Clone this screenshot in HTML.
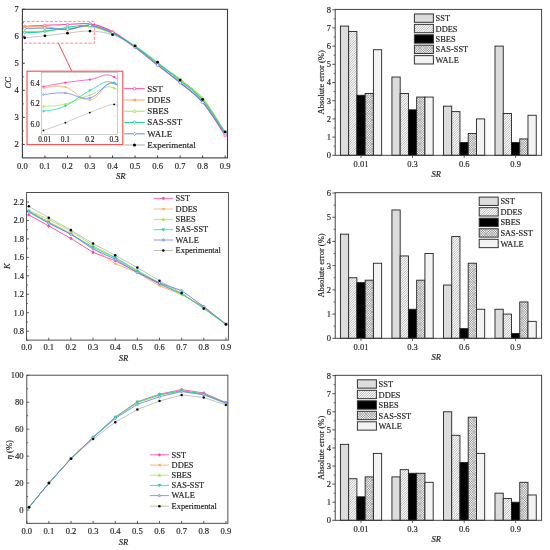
<!DOCTYPE html>
<html lang="en"><head><meta charset="utf-8"><title>Figure</title>
<style>
html,body{margin:0;padding:0;background:#fff}
body{width:550px;height:550px;overflow:hidden}
svg{display:block}
svg text{font-family:"Liberation Serif","DejaVu Serif",serif;stroke:#222;stroke-width:0.16px}
</style></head><body>
<svg width="550" height="550" viewBox="0 0 550 550">
<defs>
<pattern id="h1" width="12" height="12" patternUnits="userSpaceOnUse"><rect width="12" height="12" fill="#fff"/><path d="M-14.4 12L-2.4 0M-12 12L0 0M-9.6 12L2.4 0M-7.2 12L4.8 0M-4.8 12L7.2 0M-2.4 12L9.6 0M0 12L12 0M2.4 12L14.4 0M4.8 12L16.8 0M7.2 12L19.2 0M9.6 12L21.6 0M12 12L24 0" stroke="#747474" stroke-width="0.52" fill="none"/></pattern>
<pattern id="h2" width="12" height="12" patternUnits="userSpaceOnUse"><rect width="12" height="12" fill="#fff"/><path d="M-14.4 12L-2.4 0M-12 12L0 0M-9.6 12L2.4 0M-7.2 12L4.8 0M-4.8 12L7.2 0M-2.4 12L9.6 0M0 12L12 0M2.4 12L14.4 0M4.8 12L16.8 0M7.2 12L19.2 0M9.6 12L21.6 0M12 12L24 0M-14.4 0L-2.4 12M-12 0L0 12M-9.6 0L2.4 12M-7.2 0L4.8 12M-4.8 0L7.2 12M-2.4 0L9.6 12M0 0L12 12M2.4 0L14.4 12M4.8 0L16.8 12M7.2 0L19.2 12M9.6 0L21.6 12M12 0L24 12" stroke="#6e6e6e" stroke-width="0.55" fill="none"/></pattern>
</defs>
<rect width="550" height="550" fill="#fff"/>
<rect x="22.4" y="21.4" width="72" height="21.8" fill="none" stroke="#ff6262" stroke-width="0.75" stroke-dasharray="3 1.6"/>
<path d="M24.65 37.81 C28.03 37.47 37.8 36.56 44.93 35.78 C52.06 35.01 59.95 33.95 67.46 33.16 C74.97 32.36 82.48 30.76 89.99 31.02 C97.5 31.28 105.01 32.21 112.52 34.7 C120.03 37.19 127.54 41.39 135.05 45.97 C142.56 50.56 150.07 56.52 157.58 62.2 C165.09 67.88 172.6 73.85 180.11 80.04 C187.62 86.24 195.13 90.73 202.64 99.38 C210.15 108.03 221.42 126.53 225.17 131.96" fill="none" stroke="#9a9a9a" stroke-width="0.6"/>
<path d="M24.65 26.37 C28.03 26.19 37.8 25.62 44.93 25.32 C52.06 25.01 59.95 24.78 67.46 24.53 C74.97 24.29 82.48 22.69 89.99 23.86 C97.5 25.02 105.01 27.64 112.52 31.51 C120.03 35.37 127.54 41.49 135.05 47.06 C142.56 52.62 150.07 59 157.58 64.9 C165.09 70.81 172.6 76.26 180.11 82.48 C187.62 88.7 195.13 93.34 202.64 102.22 C210.15 111.1 221.42 130.16 225.17 135.75" fill="none" stroke="#ff45a2" stroke-width="1.05"/>
<circle cx="24.65" cy="26.37" r="1.25" fill="#fff" stroke="#ff45a2" stroke-width="0.7"/>
<circle cx="44.93" cy="25.32" r="1.25" fill="#fff" stroke="#ff45a2" stroke-width="0.7"/>
<circle cx="67.46" cy="24.53" r="1.25" fill="#fff" stroke="#ff45a2" stroke-width="0.7"/>
<circle cx="89.99" cy="23.86" r="1.25" fill="#fff" stroke="#ff45a2" stroke-width="0.7"/>
<circle cx="112.52" cy="31.51" r="1.25" fill="#fff" stroke="#ff45a2" stroke-width="0.7"/>
<circle cx="135.05" cy="47.06" r="1.25" fill="#fff" stroke="#ff45a2" stroke-width="0.7"/>
<circle cx="157.58" cy="64.9" r="1.25" fill="#fff" stroke="#ff45a2" stroke-width="0.7"/>
<circle cx="180.11" cy="82.48" r="1.25" fill="#fff" stroke="#ff45a2" stroke-width="0.7"/>
<circle cx="202.64" cy="102.22" r="1.25" fill="#fff" stroke="#ff45a2" stroke-width="0.7"/>
<circle cx="225.17" cy="135.75" r="1.25" fill="#fff" stroke="#ff45a2" stroke-width="0.7"/>
<path d="M24.65 26.72 C28.03 26.68 37.8 25.96 44.93 26.48 C52.06 27 59.95 30.05 67.46 29.86 C74.97 29.66 82.48 24.84 89.99 25.32 C97.5 25.79 105.01 29.01 112.52 32.72 C120.03 36.44 127.54 42.32 135.05 47.6 C142.56 52.87 150.07 59.09 157.58 64.36 C165.09 69.63 172.6 73.24 180.11 79.23 C187.62 85.23 195.13 91.27 202.64 100.32 C210.15 109.38 221.42 128.04 225.17 133.58" fill="none" stroke="#ffa766" stroke-width="1.05"/>
<path d="M23.15 26.72 L25.78 25.35 L25.78 28.1 Z" fill="#ffa766" stroke="#ffa766" stroke-width="0.42"/>
<path d="M43.43 26.48 L46.05 25.1 L46.05 27.85 Z" fill="#ffa766" stroke="#ffa766" stroke-width="0.42"/>
<path d="M65.96 29.86 L68.59 28.48 L68.59 31.23 Z" fill="#ffa766" stroke="#ffa766" stroke-width="0.42"/>
<path d="M88.49 25.32 L91.12 23.94 L91.12 26.69 Z" fill="#ffa766" stroke="#ffa766" stroke-width="0.42"/>
<path d="M111.02 32.72 L113.65 31.35 L113.65 34.1 Z" fill="#ffa766" stroke="#ffa766" stroke-width="0.42"/>
<path d="M133.55 47.6 L136.18 46.22 L136.18 48.97 Z" fill="#ffa766" stroke="#ffa766" stroke-width="0.42"/>
<path d="M156.08 64.36 L158.71 62.99 L158.71 65.74 Z" fill="#ffa766" stroke="#ffa766" stroke-width="0.42"/>
<path d="M178.61 79.23 L181.24 77.86 L181.24 80.61 Z" fill="#ffa766" stroke="#ffa766" stroke-width="0.42"/>
<path d="M201.14 100.32 L203.77 98.95 L203.77 101.7 Z" fill="#ffa766" stroke="#ffa766" stroke-width="0.42"/>
<path d="M223.67 133.58 L226.3 132.21 L226.3 134.96 Z" fill="#ffa766" stroke="#ffa766" stroke-width="0.42"/>
<path d="M24.65 31.54 C28.03 31.43 37.8 31.41 44.93 30.91 C52.06 30.42 59.95 29.26 67.46 28.56 C74.97 27.86 82.48 25.89 89.99 26.72 C97.5 27.55 105.01 30.28 112.52 33.54 C120.03 36.79 127.54 41.33 135.05 46.24 C142.56 51.16 150.07 57.42 157.58 63.01 C165.09 68.6 172.6 73.92 180.11 79.77 C187.62 85.63 195.13 89.37 202.64 98.16 C210.15 106.95 221.42 126.78 225.17 132.5" fill="none" stroke="#a2e64e" stroke-width="1.05"/>
<path d="M24.65 30.04 L26.03 32.66 L23.28 32.66 Z" fill="#fff" stroke="#a2e64e" stroke-width="0.7"/>
<path d="M44.93 29.41 L46.3 32.04 L43.55 32.04 Z" fill="#fff" stroke="#a2e64e" stroke-width="0.7"/>
<path d="M67.46 27.06 L68.84 29.69 L66.09 29.69 Z" fill="#fff" stroke="#a2e64e" stroke-width="0.7"/>
<path d="M89.99 25.22 L91.37 27.85 L88.62 27.85 Z" fill="#fff" stroke="#a2e64e" stroke-width="0.7"/>
<path d="M112.52 32.04 L113.9 34.66 L111.15 34.66 Z" fill="#fff" stroke="#a2e64e" stroke-width="0.7"/>
<path d="M135.05 44.74 L136.43 47.37 L133.68 47.37 Z" fill="#fff" stroke="#a2e64e" stroke-width="0.7"/>
<path d="M157.58 61.51 L158.96 64.13 L156.21 64.13 Z" fill="#fff" stroke="#a2e64e" stroke-width="0.7"/>
<path d="M180.11 78.27 L181.49 80.9 L178.74 80.9 Z" fill="#fff" stroke="#a2e64e" stroke-width="0.7"/>
<path d="M202.64 96.66 L204.02 99.29 L201.27 99.29 Z" fill="#fff" stroke="#a2e64e" stroke-width="0.7"/>
<path d="M225.17 131 L226.55 133.63 L223.8 133.63 Z" fill="#fff" stroke="#a2e64e" stroke-width="0.7"/>
<path d="M24.65 32.83 C28.03 32.6 37.8 32.33 44.93 31.43 C52.06 30.52 59.95 28.4 67.46 27.4 C74.97 26.4 82.48 24.49 89.99 25.42 C97.5 26.36 105.01 29.53 112.52 33 C120.03 36.47 127.54 41.2 135.05 46.24 C142.56 51.29 150.07 57.56 157.58 63.28 C165.09 69 172.6 74.46 180.11 80.59 C187.62 86.71 195.13 91.36 202.64 100.05 C210.15 108.75 221.42 127.32 225.17 132.77" fill="none" stroke="#1fd7a2" stroke-width="1.05"/>
<path d="M24.65 34.33 L26.03 31.71 L23.28 31.71 Z" fill="#fff" stroke="#1fd7a2" stroke-width="0.7"/>
<path d="M44.93 32.93 L46.3 30.3 L43.55 30.3 Z" fill="#fff" stroke="#1fd7a2" stroke-width="0.7"/>
<path d="M67.46 28.9 L68.84 26.27 L66.09 26.27 Z" fill="#fff" stroke="#1fd7a2" stroke-width="0.7"/>
<path d="M89.99 26.92 L91.37 24.3 L88.62 24.3 Z" fill="#fff" stroke="#1fd7a2" stroke-width="0.7"/>
<path d="M112.52 34.5 L113.9 31.87 L111.15 31.87 Z" fill="#fff" stroke="#1fd7a2" stroke-width="0.7"/>
<path d="M135.05 47.74 L136.43 45.12 L133.68 45.12 Z" fill="#fff" stroke="#1fd7a2" stroke-width="0.7"/>
<path d="M157.58 64.78 L158.96 62.16 L156.21 62.16 Z" fill="#fff" stroke="#1fd7a2" stroke-width="0.7"/>
<path d="M180.11 82.09 L181.49 79.46 L178.74 79.46 Z" fill="#fff" stroke="#1fd7a2" stroke-width="0.7"/>
<path d="M202.64 101.55 L204.02 98.93 L201.27 98.93 Z" fill="#fff" stroke="#1fd7a2" stroke-width="0.7"/>
<path d="M225.17 134.27 L226.55 131.65 L223.8 131.65 Z" fill="#fff" stroke="#1fd7a2" stroke-width="0.7"/>
<path d="M24.65 28.45 C28.03 28.38 37.8 27.9 44.93 28.05 C52.06 28.2 59.95 29.76 67.46 29.34 C74.97 28.93 82.48 24.97 89.99 25.53 C97.5 26.1 105.01 29.14 112.52 32.72 C120.03 36.31 127.54 41.65 135.05 47.06 C142.56 52.46 150.07 59.22 157.58 65.17 C165.09 71.12 172.6 76.53 180.11 82.75 C187.62 88.97 195.13 93.97 202.64 102.49 C210.15 111.01 221.42 128.63 225.17 133.85" fill="none" stroke="#6682f2" stroke-width="1.05"/>
<path d="M24.65 26.89 L26.22 28.45 L24.65 30.01 L23.09 28.45 Z" fill="#fff" stroke="#6682f2" stroke-width="0.7"/>
<path d="M44.93 26.48 L46.49 28.05 L44.93 29.61 L43.37 28.05 Z" fill="#fff" stroke="#6682f2" stroke-width="0.7"/>
<path d="M67.46 27.78 L69.02 29.34 L67.46 30.91 L65.9 29.34 Z" fill="#fff" stroke="#6682f2" stroke-width="0.7"/>
<path d="M89.99 23.97 L91.55 25.53 L89.99 27.09 L88.43 25.53 Z" fill="#fff" stroke="#6682f2" stroke-width="0.7"/>
<path d="M112.52 31.16 L114.08 32.72 L112.52 34.29 L110.96 32.72 Z" fill="#fff" stroke="#6682f2" stroke-width="0.7"/>
<path d="M135.05 45.49 L136.61 47.06 L135.05 48.62 L133.49 47.06 Z" fill="#fff" stroke="#6682f2" stroke-width="0.7"/>
<path d="M157.58 63.61 L159.14 65.17 L157.58 66.74 L156.02 65.17 Z" fill="#fff" stroke="#6682f2" stroke-width="0.7"/>
<path d="M180.11 81.19 L181.67 82.75 L180.11 84.31 L178.55 82.75 Z" fill="#fff" stroke="#6682f2" stroke-width="0.7"/>
<path d="M202.64 100.93 L204.2 102.49 L202.64 104.05 L201.08 102.49 Z" fill="#fff" stroke="#6682f2" stroke-width="0.7"/>
<path d="M225.17 132.29 L226.73 133.85 L225.17 135.42 L223.61 133.85 Z" fill="#fff" stroke="#6682f2" stroke-width="0.7"/>
<circle cx="24.65" cy="37.81" r="1.38" fill="#000"/>
<circle cx="44.93" cy="35.78" r="1.38" fill="#000"/>
<circle cx="67.46" cy="33.16" r="1.38" fill="#000"/>
<circle cx="89.99" cy="31.02" r="1.38" fill="#000"/>
<circle cx="112.52" cy="34.7" r="1.38" fill="#000"/>
<circle cx="135.05" cy="45.97" r="1.38" fill="#000"/>
<circle cx="157.58" cy="62.2" r="1.38" fill="#000"/>
<circle cx="180.11" cy="80.04" r="1.38" fill="#000"/>
<circle cx="202.64" cy="99.38" r="1.38" fill="#000"/>
<circle cx="225.17" cy="131.96" r="1.38" fill="#000"/>
<rect x="22.4" y="9.3" width="205.1" height="148.6" fill="none" stroke="#3c3c3c" stroke-width="1.1"/>
<line x1="22.4" y1="157.9" x2="22.4" y2="155.5" stroke="#3c3c3c" stroke-width="0.9900000000000001"/>
<line x1="44.93" y1="157.9" x2="44.93" y2="155.5" stroke="#3c3c3c" stroke-width="0.9900000000000001"/>
<line x1="67.46" y1="157.9" x2="67.46" y2="155.5" stroke="#3c3c3c" stroke-width="0.9900000000000001"/>
<line x1="89.99" y1="157.9" x2="89.99" y2="155.5" stroke="#3c3c3c" stroke-width="0.9900000000000001"/>
<line x1="112.52" y1="157.9" x2="112.52" y2="155.5" stroke="#3c3c3c" stroke-width="0.9900000000000001"/>
<line x1="135.05" y1="157.9" x2="135.05" y2="155.5" stroke="#3c3c3c" stroke-width="0.9900000000000001"/>
<line x1="157.58" y1="157.9" x2="157.58" y2="155.5" stroke="#3c3c3c" stroke-width="0.9900000000000001"/>
<line x1="180.11" y1="157.9" x2="180.11" y2="155.5" stroke="#3c3c3c" stroke-width="0.9900000000000001"/>
<line x1="202.64" y1="157.9" x2="202.64" y2="155.5" stroke="#3c3c3c" stroke-width="0.9900000000000001"/>
<line x1="225.17" y1="157.9" x2="225.17" y2="155.5" stroke="#3c3c3c" stroke-width="0.9900000000000001"/>
<line x1="22.4" y1="144.4" x2="24.8" y2="144.4" stroke="#3c3c3c" stroke-width="0.9900000000000001"/>
<line x1="22.4" y1="117.36" x2="24.8" y2="117.36" stroke="#3c3c3c" stroke-width="0.9900000000000001"/>
<line x1="22.4" y1="90.32" x2="24.8" y2="90.32" stroke="#3c3c3c" stroke-width="0.9900000000000001"/>
<line x1="22.4" y1="63.28" x2="24.8" y2="63.28" stroke="#3c3c3c" stroke-width="0.9900000000000001"/>
<line x1="22.4" y1="36.24" x2="24.8" y2="36.24" stroke="#3c3c3c" stroke-width="0.9900000000000001"/>
<line x1="22.4" y1="9.2" x2="24.8" y2="9.2" stroke="#3c3c3c" stroke-width="0.9900000000000001"/>
<line x1="22.4" y1="130.88" x2="23.7" y2="130.88" stroke="#3c3c3c" stroke-width="0.8800000000000001"/>
<line x1="22.4" y1="103.84" x2="23.7" y2="103.84" stroke="#3c3c3c" stroke-width="0.8800000000000001"/>
<line x1="22.4" y1="76.8" x2="23.7" y2="76.8" stroke="#3c3c3c" stroke-width="0.8800000000000001"/>
<line x1="22.4" y1="49.76" x2="23.7" y2="49.76" stroke="#3c3c3c" stroke-width="0.8800000000000001"/>
<line x1="22.4" y1="22.72" x2="23.7" y2="22.72" stroke="#3c3c3c" stroke-width="0.8800000000000001"/>
<text x="22.4" y="168.7" font-size="8.6" text-anchor="middle" fill="#222">0.0</text>
<text x="44.93" y="168.7" font-size="8.6" text-anchor="middle" fill="#222">0.1</text>
<text x="67.46" y="168.7" font-size="8.6" text-anchor="middle" fill="#222">0.2</text>
<text x="89.99" y="168.7" font-size="8.6" text-anchor="middle" fill="#222">0.3</text>
<text x="112.52" y="168.7" font-size="8.6" text-anchor="middle" fill="#222">0.4</text>
<text x="135.05" y="168.7" font-size="8.6" text-anchor="middle" fill="#222">0.5</text>
<text x="157.58" y="168.7" font-size="8.6" text-anchor="middle" fill="#222">0.6</text>
<text x="180.11" y="168.7" font-size="8.6" text-anchor="middle" fill="#222">0.7</text>
<text x="202.64" y="168.7" font-size="8.6" text-anchor="middle" fill="#222">0.8</text>
<text x="225.17" y="168.7" font-size="8.6" text-anchor="middle" fill="#222">0.9</text>
<text x="18.8" y="147.24" font-size="8.6" text-anchor="end" fill="#222">2</text>
<text x="18.8" y="120.2" font-size="8.6" text-anchor="end" fill="#222">3</text>
<text x="18.8" y="93.16" font-size="8.6" text-anchor="end" fill="#222">4</text>
<text x="18.8" y="66.12" font-size="8.6" text-anchor="end" fill="#222">5</text>
<text x="18.8" y="39.08" font-size="8.6" text-anchor="end" fill="#222">6</text>
<text x="18.8" y="12.04" font-size="8.6" text-anchor="end" fill="#222">7</text>
<text x="120.8" y="178.6" font-size="8.7" text-anchor="middle" font-style="italic" fill="#222">SR</text>
<text x="11.4" y="82.7" font-size="8.7" text-anchor="middle" font-style="italic" transform="rotate(-90 11.4 82.7)" fill="#222">CC</text>
<line x1="58.4" y1="43.2" x2="71.7" y2="71" stroke="#ff4a4a" stroke-width="1.0"/>
<rect x="27" y="71.2" width="95.8" height="73.4" fill="#fff" stroke="#ff4a4a" stroke-width="1.1"/>
<clipPath id="ic"><rect x="41.5" y="72.6" width="76" height="61.8"/></clipPath>
<g clip-path="url(#ic)">
<path d="M43.44 130.4 C45.64 129.63 60.76 124.42 65.4 122.64 C70.04 120.86 84.92 114.42 89.8 112.6 C94.68 110.78 109.32 103.83 114.2 104.42 C119.08 105.01 136.16 117.09 138.6 118.5" fill="none" stroke="#9a9a9a" stroke-width="0.5"/>
<path d="M43.44 86.62 C47.98 85.79 55.82 84.04 65.4 82.59 C74.98 81.13 79.71 80.74 89.8 79.58 C99.89 78.43 104.11 71.48 114.2 77 C124.29 82.52 133.56 100.23 138.6 106.29" fill="none" stroke="#ff45a2" stroke-width="0.78"/>
<circle cx="43.44" cy="86.62" r="0.9" fill="#ff45a2" stroke="#ff45a2" stroke-width="0.5"/>
<circle cx="65.4" cy="82.59" r="0.9" fill="#ff45a2" stroke="#ff45a2" stroke-width="0.5"/>
<circle cx="89.8" cy="79.58" r="0.9" fill="#ff45a2" stroke="#ff45a2" stroke-width="0.5"/>
<circle cx="114.2" cy="77" r="0.9" fill="#ff45a2" stroke="#ff45a2" stroke-width="0.5"/>
<path d="M43.44 87.97 C47.98 87.78 55.82 84.56 65.4 87.04 C74.98 89.52 79.71 100.89 89.8 99.97 C99.89 99.05 104.11 80.32 114.2 82.59 C124.29 84.85 133.56 105.08 138.6 110.95" fill="none" stroke="#ffa766" stroke-width="0.78"/>
<path d="M42.36 87.97 L44.25 86.98 L44.25 88.96 Z" fill="#ffa766" stroke="#ffa766" stroke-width="0.3"/>
<path d="M64.32 87.04 L66.21 86.05 L66.21 88.03 Z" fill="#ffa766" stroke="#ffa766" stroke-width="0.3"/>
<path d="M88.72 99.97 L90.61 98.98 L90.61 100.96 Z" fill="#ffa766" stroke="#ffa766" stroke-width="0.3"/>
<path d="M113.12 82.59 L115.01 81.6 L115.01 83.58 Z" fill="#ffa766" stroke="#ffa766" stroke-width="0.3"/>
<path d="M43.44 106.39 C47.98 105.9 55.82 106.36 65.4 104.01 C74.98 101.66 79.71 98.32 89.8 95.01 C99.89 91.69 104.11 84.03 114.2 87.97 C124.29 91.9 133.56 108.66 138.6 114.05" fill="none" stroke="#a2e64e" stroke-width="0.78"/>
<path d="M43.44 105.31 L44.43 107.2 L42.45 107.2 Z" fill="#a2e64e" stroke="#a2e64e" stroke-width="0.5"/>
<path d="M65.4 102.93 L66.39 104.82 L64.41 104.82 Z" fill="#a2e64e" stroke="#a2e64e" stroke-width="0.5"/>
<path d="M89.8 93.93 L90.79 95.82 L88.81 95.82 Z" fill="#a2e64e" stroke="#a2e64e" stroke-width="0.5"/>
<path d="M114.2 86.89 L115.19 88.78 L113.21 88.78 Z" fill="#a2e64e" stroke="#a2e64e" stroke-width="0.5"/>
<path d="M43.44 111.36 C47.98 110.25 55.82 110.28 65.4 105.98 C74.98 101.68 79.71 95.3 89.8 90.56 C99.89 85.81 104.11 78.57 114.2 83 C124.29 87.43 133.56 105.99 138.6 111.98" fill="none" stroke="#1fd7a2" stroke-width="0.78"/>
<path d="M43.44 112.44 L44.43 110.55 L42.45 110.55 Z" fill="#1fd7a2" stroke="#1fd7a2" stroke-width="0.5"/>
<path d="M65.4 107.06 L66.39 105.17 L64.41 105.17 Z" fill="#1fd7a2" stroke="#1fd7a2" stroke-width="0.5"/>
<path d="M89.8 91.64 L90.79 89.75 L88.81 89.75 Z" fill="#1fd7a2" stroke="#1fd7a2" stroke-width="0.5"/>
<path d="M114.2 84.08 L115.19 82.19 L113.21 82.19 Z" fill="#1fd7a2" stroke="#1fd7a2" stroke-width="0.5"/>
<path d="M43.44 94.59 C47.98 94.27 55.82 92.33 65.4 93.04 C74.98 93.75 79.71 100 89.8 98.01 C99.89 96.02 104.11 80.74 114.2 83.41 C124.29 86.09 133.56 105.26 138.6 110.95" fill="none" stroke="#6682f2" stroke-width="0.78"/>
<path d="M43.44 93.47 L44.56 94.59 L43.44 95.72 L42.31 94.59 Z" fill="#b9c6ff" stroke="#6682f2" stroke-width="0.5"/>
<path d="M65.4 91.91 L66.53 93.04 L65.4 94.16 L64.28 93.04 Z" fill="#b9c6ff" stroke="#6682f2" stroke-width="0.5"/>
<path d="M89.8 96.88 L90.93 98.01 L89.8 99.13 L88.68 98.01 Z" fill="#b9c6ff" stroke="#6682f2" stroke-width="0.5"/>
<path d="M114.2 82.29 L115.33 83.41 L114.2 84.54 L113.08 83.41 Z" fill="#b9c6ff" stroke="#6682f2" stroke-width="0.5"/>
<circle cx="43.44" cy="130.4" r="0.95" fill="#000"/>
<circle cx="65.4" cy="122.64" r="0.95" fill="#000"/>
<circle cx="89.8" cy="112.6" r="0.95" fill="#000"/>
<circle cx="114.2" cy="104.42" r="0.95" fill="#000"/>
</g>
<rect x="41.5" y="72.6" width="76" height="61.8" fill="none" stroke="#aaa" stroke-width="0.6"/>
<text x="39.8" y="126.9" font-size="7.4" text-anchor="end" fill="#222" stroke-width="0.05">6.0</text>
<text x="39.8" y="106.2" font-size="7.4" text-anchor="end" fill="#222" stroke-width="0.05">6.2</text>
<text x="39.8" y="85.5" font-size="7.4" text-anchor="end" fill="#222" stroke-width="0.05">6.4</text>
<text x="44.64" y="142.4" font-size="7.4" text-anchor="middle" fill="#222" stroke-width="0.05">0.01</text>
<text x="65.4" y="142.4" font-size="7.4" text-anchor="middle" fill="#222" stroke-width="0.05">0.1</text>
<text x="89.8" y="142.4" font-size="7.4" text-anchor="middle" fill="#222" stroke-width="0.05">0.2</text>
<text x="114.2" y="142.4" font-size="7.4" text-anchor="middle" fill="#222" stroke-width="0.05">0.3</text>
<line x1="124.2" y1="88.7" x2="144.8" y2="88.7" stroke="#ff45a2" stroke-width="1.0"/>
<circle cx="134.5" cy="88.7" r="1.4" fill="#fff" stroke="#ff45a2" stroke-width="0.7"/>
<text x="147.3" y="91.67" font-size="9.0" text-anchor="start" fill="#222">SST</text>
<line x1="124.2" y1="100" x2="144.8" y2="100" stroke="#ffa766" stroke-width="1.0"/>
<path d="M132.82 100 L135.76 98.46 L135.76 101.54 Z" fill="#ffa766" stroke="#ffa766" stroke-width="0.42"/>
<text x="147.3" y="102.97" font-size="9.0" text-anchor="start" fill="#222">DDES</text>
<line x1="124.2" y1="111.2" x2="144.8" y2="111.2" stroke="#a2e64e" stroke-width="1.0"/>
<path d="M134.5 109.52 L136.04 112.46 L132.96 112.46 Z" fill="#fff" stroke="#a2e64e" stroke-width="0.7"/>
<text x="147.3" y="114.17" font-size="9.0" text-anchor="start" fill="#222">SBES</text>
<line x1="124.2" y1="122.5" x2="144.8" y2="122.5" stroke="#1fd7a2" stroke-width="1.0"/>
<path d="M134.5 124.18 L136.04 121.24 L132.96 121.24 Z" fill="#fff" stroke="#1fd7a2" stroke-width="0.7"/>
<text x="147.3" y="125.47" font-size="9.0" text-anchor="start" fill="#222">SAS-SST</text>
<line x1="124.2" y1="133.8" x2="144.8" y2="133.8" stroke="#6682f2" stroke-width="1.0"/>
<path d="M134.5 132.05 L136.25 133.8 L134.5 135.55 L132.75 133.8 Z" fill="#fff" stroke="#6682f2" stroke-width="0.7"/>
<text x="147.3" y="136.77" font-size="9.0" text-anchor="start" fill="#222">WALE</text>
<line x1="124.2" y1="145" x2="144.8" y2="145" stroke="#777" stroke-width="0.6"/>
<circle cx="134.5" cy="145" r="1.54" fill="#000"/>
<text x="147.3" y="147.97" font-size="9.0" text-anchor="start" fill="#222">Experimental</text>
<path d="M28.82 206.32 L48.75 217.67 L70.9 230.13 L93.05 243.61 L115.2 255.24 L137.35 267.61 L159.5 280.71 L181.65 293.08 L203.8 308.4 L225.95 324.37" fill="none" stroke="#9a9a9a" stroke-width="0.6"/>
<path d="M28.82 214.9 L48.75 225.98 L70.9 238.44 L93.05 252.38 L115.2 260.68 L137.35 272.13 L159.5 284.13 L181.65 293.82 L203.8 307.66 L225.95 324.37" fill="none" stroke="#ff45a2" stroke-width="0.9"/>
<circle cx="28.82" cy="214.9" r="1.15" fill="#ff45a2" stroke="#ff45a2" stroke-width="0.65"/>
<circle cx="48.75" cy="225.98" r="1.15" fill="#ff45a2" stroke="#ff45a2" stroke-width="0.65"/>
<circle cx="70.9" cy="238.44" r="1.15" fill="#ff45a2" stroke="#ff45a2" stroke-width="0.65"/>
<circle cx="93.05" cy="252.38" r="1.15" fill="#ff45a2" stroke="#ff45a2" stroke-width="0.65"/>
<circle cx="115.2" cy="260.68" r="1.15" fill="#ff45a2" stroke="#ff45a2" stroke-width="0.65"/>
<circle cx="137.35" cy="272.13" r="1.15" fill="#ff45a2" stroke="#ff45a2" stroke-width="0.65"/>
<circle cx="159.5" cy="284.13" r="1.15" fill="#ff45a2" stroke="#ff45a2" stroke-width="0.65"/>
<circle cx="181.65" cy="293.82" r="1.15" fill="#ff45a2" stroke="#ff45a2" stroke-width="0.65"/>
<circle cx="203.8" cy="307.66" r="1.15" fill="#ff45a2" stroke="#ff45a2" stroke-width="0.65"/>
<circle cx="225.95" cy="324.37" r="1.15" fill="#ff45a2" stroke="#ff45a2" stroke-width="0.65"/>
<path d="M28.82 211.21 L48.75 221.82 L70.9 233.36 L93.05 248.13 L115.2 263.73 L137.35 272.59 L159.5 285.79 L181.65 294.56 L203.8 306.46 L225.95 324.37" fill="none" stroke="#ffa766" stroke-width="0.9"/>
<path d="M27.44 211.21 L29.85 209.94 L29.85 212.47 Z" fill="#ffa766" stroke="#ffa766" stroke-width="0.39"/>
<path d="M47.37 221.82 L49.78 220.56 L49.78 223.09 Z" fill="#ffa766" stroke="#ffa766" stroke-width="0.39"/>
<path d="M69.52 233.36 L71.94 232.1 L71.94 234.63 Z" fill="#ffa766" stroke="#ffa766" stroke-width="0.39"/>
<path d="M91.67 248.13 L94.09 246.87 L94.09 249.39 Z" fill="#ffa766" stroke="#ffa766" stroke-width="0.39"/>
<path d="M113.82 263.73 L116.24 262.46 L116.24 264.99 Z" fill="#ffa766" stroke="#ffa766" stroke-width="0.39"/>
<path d="M135.97 272.59 L138.38 271.32 L138.38 273.85 Z" fill="#ffa766" stroke="#ffa766" stroke-width="0.39"/>
<path d="M158.12 285.79 L160.53 284.52 L160.53 287.05 Z" fill="#ffa766" stroke="#ffa766" stroke-width="0.39"/>
<path d="M180.27 294.56 L182.68 293.29 L182.68 295.82 Z" fill="#ffa766" stroke="#ffa766" stroke-width="0.39"/>
<path d="M202.42 306.46 L204.84 305.2 L204.84 307.73 Z" fill="#ffa766" stroke="#ffa766" stroke-width="0.39"/>
<path d="M224.57 324.37 L226.98 323.1 L226.98 325.63 Z" fill="#ffa766" stroke="#ffa766" stroke-width="0.39"/>
<path d="M28.82 210.47 L48.75 219.52 L70.9 231.05 L93.05 245.82 L115.2 257.36 L137.35 270.28 L159.5 282.74 L181.65 293.36 L203.8 308.59 L225.95 324.55" fill="none" stroke="#a2e64e" stroke-width="0.9"/>
<path d="M28.82 209.09 L30.08 211.51 L27.55 211.51 Z" fill="#a2e64e" stroke="#a2e64e" stroke-width="0.65"/>
<path d="M48.75 218.14 L50.02 220.55 L47.48 220.55 Z" fill="#a2e64e" stroke="#a2e64e" stroke-width="0.65"/>
<path d="M70.9 229.67 L72.17 232.09 L69.64 232.09 Z" fill="#a2e64e" stroke="#a2e64e" stroke-width="0.65"/>
<path d="M93.05 244.44 L94.32 246.86 L91.79 246.86 Z" fill="#a2e64e" stroke="#a2e64e" stroke-width="0.65"/>
<path d="M115.2 255.98 L116.47 258.4 L113.94 258.4 Z" fill="#a2e64e" stroke="#a2e64e" stroke-width="0.65"/>
<path d="M137.35 268.9 L138.61 271.32 L136.09 271.32 Z" fill="#a2e64e" stroke="#a2e64e" stroke-width="0.65"/>
<path d="M159.5 281.36 L160.76 283.78 L158.24 283.78 Z" fill="#a2e64e" stroke="#a2e64e" stroke-width="0.65"/>
<path d="M181.65 291.98 L182.91 294.39 L180.38 294.39 Z" fill="#a2e64e" stroke="#a2e64e" stroke-width="0.65"/>
<path d="M203.8 307.21 L205.06 309.62 L202.54 309.62 Z" fill="#a2e64e" stroke="#a2e64e" stroke-width="0.65"/>
<path d="M225.95 323.17 L227.21 325.59 L224.69 325.59 Z" fill="#a2e64e" stroke="#a2e64e" stroke-width="0.65"/>
<path d="M28.82 211.21 L48.75 222.75 L70.9 234.28 L93.05 247.21 L115.2 257.82 L137.35 271.2 L159.5 283.67 L181.65 293.82 L203.8 308.12 L225.95 324.37" fill="none" stroke="#1fd7a2" stroke-width="0.9"/>
<path d="M28.82 212.59 L30.08 210.17 L27.55 210.17 Z" fill="#1fd7a2" stroke="#1fd7a2" stroke-width="0.65"/>
<path d="M48.75 224.13 L50.02 221.71 L47.48 221.71 Z" fill="#1fd7a2" stroke="#1fd7a2" stroke-width="0.65"/>
<path d="M70.9 235.66 L72.17 233.25 L69.64 233.25 Z" fill="#1fd7a2" stroke="#1fd7a2" stroke-width="0.65"/>
<path d="M93.05 248.59 L94.32 246.17 L91.79 246.17 Z" fill="#1fd7a2" stroke="#1fd7a2" stroke-width="0.65"/>
<path d="M115.2 259.2 L116.47 256.79 L113.94 256.79 Z" fill="#1fd7a2" stroke="#1fd7a2" stroke-width="0.65"/>
<path d="M137.35 272.58 L138.61 270.17 L136.09 270.17 Z" fill="#1fd7a2" stroke="#1fd7a2" stroke-width="0.65"/>
<path d="M159.5 285.05 L160.76 282.63 L158.24 282.63 Z" fill="#1fd7a2" stroke="#1fd7a2" stroke-width="0.65"/>
<path d="M181.65 295.2 L182.91 292.78 L180.38 292.78 Z" fill="#1fd7a2" stroke="#1fd7a2" stroke-width="0.65"/>
<path d="M203.8 309.5 L205.06 307.09 L202.54 307.09 Z" fill="#1fd7a2" stroke="#1fd7a2" stroke-width="0.65"/>
<path d="M225.95 325.75 L227.21 323.33 L224.69 323.33 Z" fill="#1fd7a2" stroke="#1fd7a2" stroke-width="0.65"/>
<path d="M28.82 212.13 L48.75 223.21 L70.9 234.28 L93.05 249.05 L115.2 259.21 L137.35 272.68 L159.5 282.93 L181.65 290.59 L203.8 306.65 L225.95 324.19" fill="none" stroke="#6682f2" stroke-width="0.9"/>
<path d="M28.82 210.7 L30.25 212.13 L28.82 213.57 L27.38 212.13 Z" fill="#b9c6ff" stroke="#6682f2" stroke-width="0.65"/>
<path d="M48.75 221.77 L50.19 223.21 L48.75 224.65 L47.31 223.21 Z" fill="#b9c6ff" stroke="#6682f2" stroke-width="0.65"/>
<path d="M70.9 232.85 L72.34 234.28 L70.9 235.72 L69.46 234.28 Z" fill="#b9c6ff" stroke="#6682f2" stroke-width="0.65"/>
<path d="M93.05 247.62 L94.49 249.05 L93.05 250.49 L91.61 249.05 Z" fill="#b9c6ff" stroke="#6682f2" stroke-width="0.65"/>
<path d="M115.2 257.77 L116.64 259.21 L115.2 260.64 L113.76 259.21 Z" fill="#b9c6ff" stroke="#6682f2" stroke-width="0.65"/>
<path d="M137.35 271.24 L138.79 272.68 L137.35 274.12 L135.91 272.68 Z" fill="#b9c6ff" stroke="#6682f2" stroke-width="0.65"/>
<path d="M159.5 281.49 L160.94 282.93 L159.5 284.36 L158.06 282.93 Z" fill="#b9c6ff" stroke="#6682f2" stroke-width="0.65"/>
<path d="M181.65 289.15 L183.09 290.59 L181.65 292.03 L180.21 290.59 Z" fill="#b9c6ff" stroke="#6682f2" stroke-width="0.65"/>
<path d="M203.8 305.21 L205.24 306.65 L203.8 308.09 L202.36 306.65 Z" fill="#b9c6ff" stroke="#6682f2" stroke-width="0.65"/>
<path d="M225.95 322.75 L227.39 324.19 L225.95 325.62 L224.51 324.19 Z" fill="#b9c6ff" stroke="#6682f2" stroke-width="0.65"/>
<circle cx="28.82" cy="206.32" r="1.26" fill="#000"/>
<circle cx="48.75" cy="217.67" r="1.26" fill="#000"/>
<circle cx="70.9" cy="230.13" r="1.26" fill="#000"/>
<circle cx="93.05" cy="243.61" r="1.26" fill="#000"/>
<circle cx="115.2" cy="255.24" r="1.26" fill="#000"/>
<circle cx="137.35" cy="267.61" r="1.26" fill="#000"/>
<circle cx="159.5" cy="280.71" r="1.26" fill="#000"/>
<circle cx="181.65" cy="293.08" r="1.26" fill="#000"/>
<circle cx="203.8" cy="308.4" r="1.26" fill="#000"/>
<circle cx="225.95" cy="324.37" r="1.26" fill="#000"/>
<rect x="26.6" y="192.5" width="201.8" height="147.6" fill="none" stroke="#3c3c3c" stroke-width="0.9"/>
<line x1="26.6" y1="340.1" x2="26.6" y2="337.7" stroke="#3c3c3c" stroke-width="0.81"/>
<line x1="48.75" y1="340.1" x2="48.75" y2="337.7" stroke="#3c3c3c" stroke-width="0.81"/>
<line x1="70.9" y1="340.1" x2="70.9" y2="337.7" stroke="#3c3c3c" stroke-width="0.81"/>
<line x1="93.05" y1="340.1" x2="93.05" y2="337.7" stroke="#3c3c3c" stroke-width="0.81"/>
<line x1="115.2" y1="340.1" x2="115.2" y2="337.7" stroke="#3c3c3c" stroke-width="0.81"/>
<line x1="137.35" y1="340.1" x2="137.35" y2="337.7" stroke="#3c3c3c" stroke-width="0.81"/>
<line x1="159.5" y1="340.1" x2="159.5" y2="337.7" stroke="#3c3c3c" stroke-width="0.81"/>
<line x1="181.65" y1="340.1" x2="181.65" y2="337.7" stroke="#3c3c3c" stroke-width="0.81"/>
<line x1="203.8" y1="340.1" x2="203.8" y2="337.7" stroke="#3c3c3c" stroke-width="0.81"/>
<line x1="225.95" y1="340.1" x2="225.95" y2="337.7" stroke="#3c3c3c" stroke-width="0.81"/>
<line x1="26.6" y1="331.2" x2="29" y2="331.2" stroke="#3c3c3c" stroke-width="0.81"/>
<line x1="26.6" y1="312.74" x2="29" y2="312.74" stroke="#3c3c3c" stroke-width="0.81"/>
<line x1="26.6" y1="294.28" x2="29" y2="294.28" stroke="#3c3c3c" stroke-width="0.81"/>
<line x1="26.6" y1="275.82" x2="29" y2="275.82" stroke="#3c3c3c" stroke-width="0.81"/>
<line x1="26.6" y1="257.36" x2="29" y2="257.36" stroke="#3c3c3c" stroke-width="0.81"/>
<line x1="26.6" y1="238.9" x2="29" y2="238.9" stroke="#3c3c3c" stroke-width="0.81"/>
<line x1="26.6" y1="220.44" x2="29" y2="220.44" stroke="#3c3c3c" stroke-width="0.81"/>
<line x1="26.6" y1="201.98" x2="29" y2="201.98" stroke="#3c3c3c" stroke-width="0.81"/>
<line x1="26.6" y1="340.43" x2="27.9" y2="340.43" stroke="#3c3c3c" stroke-width="0.7200000000000001"/>
<line x1="26.6" y1="321.97" x2="27.9" y2="321.97" stroke="#3c3c3c" stroke-width="0.7200000000000001"/>
<line x1="26.6" y1="303.51" x2="27.9" y2="303.51" stroke="#3c3c3c" stroke-width="0.7200000000000001"/>
<line x1="26.6" y1="285.05" x2="27.9" y2="285.05" stroke="#3c3c3c" stroke-width="0.7200000000000001"/>
<line x1="26.6" y1="266.59" x2="27.9" y2="266.59" stroke="#3c3c3c" stroke-width="0.7200000000000001"/>
<line x1="26.6" y1="248.13" x2="27.9" y2="248.13" stroke="#3c3c3c" stroke-width="0.7200000000000001"/>
<line x1="26.6" y1="229.67" x2="27.9" y2="229.67" stroke="#3c3c3c" stroke-width="0.7200000000000001"/>
<line x1="26.6" y1="211.21" x2="27.9" y2="211.21" stroke="#3c3c3c" stroke-width="0.7200000000000001"/>
<text x="26.6" y="350.2" font-size="8.5" text-anchor="middle" fill="#222">0.0</text>
<text x="48.75" y="350.2" font-size="8.5" text-anchor="middle" fill="#222">0.1</text>
<text x="70.9" y="350.2" font-size="8.5" text-anchor="middle" fill="#222">0.2</text>
<text x="93.05" y="350.2" font-size="8.5" text-anchor="middle" fill="#222">0.3</text>
<text x="115.2" y="350.2" font-size="8.5" text-anchor="middle" fill="#222">0.4</text>
<text x="137.35" y="350.2" font-size="8.5" text-anchor="middle" fill="#222">0.5</text>
<text x="159.5" y="350.2" font-size="8.5" text-anchor="middle" fill="#222">0.6</text>
<text x="181.65" y="350.2" font-size="8.5" text-anchor="middle" fill="#222">0.7</text>
<text x="203.8" y="350.2" font-size="8.5" text-anchor="middle" fill="#222">0.8</text>
<text x="225.95" y="350.2" font-size="8.5" text-anchor="middle" fill="#222">0.9</text>
<text x="24" y="334" font-size="8.5" text-anchor="end" fill="#222">0.8</text>
<text x="24" y="315.55" font-size="8.5" text-anchor="end" fill="#222">1.0</text>
<text x="24" y="297.08" font-size="8.5" text-anchor="end" fill="#222">1.2</text>
<text x="24" y="278.62" font-size="8.5" text-anchor="end" fill="#222">1.4</text>
<text x="24" y="260.17" font-size="8.5" text-anchor="end" fill="#222">1.6</text>
<text x="24" y="241.7" font-size="8.5" text-anchor="end" fill="#222">1.8</text>
<text x="24" y="223.25" font-size="8.5" text-anchor="end" fill="#222">2.0</text>
<text x="24" y="204.78" font-size="8.5" text-anchor="end" fill="#222">2.2</text>
<text x="123.6" y="361" font-size="8.6" text-anchor="middle" font-style="italic" fill="#222">SR</text>
<text x="9.7" y="266.1" font-size="8.6" text-anchor="middle" font-style="italic" transform="rotate(-90 9.7 266.1)" fill="#222">K</text>
<line x1="153.6" y1="198.4" x2="173" y2="198.4" stroke="#ff45a2" stroke-width="0.8"/>
<circle cx="163.3" cy="198.4" r="1.15" fill="#ff45a2" stroke="#ff45a2" stroke-width="0.7"/>
<text x="175.6" y="201.17" font-size="8.4" text-anchor="start" fill="#222">SST</text>
<line x1="153.6" y1="209" x2="173" y2="209" stroke="#ffa766" stroke-width="0.8"/>
<path d="M161.92 209 L164.34 207.74 L164.34 210.26 Z" fill="#ffa766" stroke="#ffa766" stroke-width="0.42"/>
<text x="175.6" y="211.77" font-size="8.4" text-anchor="start" fill="#222">DDES</text>
<line x1="153.6" y1="219.4" x2="173" y2="219.4" stroke="#a2e64e" stroke-width="0.8"/>
<path d="M163.3 218.02 L164.56 220.44 L162.04 220.44 Z" fill="#a2e64e" stroke="#a2e64e" stroke-width="0.7"/>
<text x="175.6" y="222.17" font-size="8.4" text-anchor="start" fill="#222">SBES</text>
<line x1="153.6" y1="229.7" x2="173" y2="229.7" stroke="#1fd7a2" stroke-width="0.8"/>
<path d="M163.3 231.08 L164.56 228.66 L162.04 228.66 Z" fill="#1fd7a2" stroke="#1fd7a2" stroke-width="0.7"/>
<text x="175.6" y="232.47" font-size="8.4" text-anchor="start" fill="#222">SAS-SST</text>
<line x1="153.6" y1="240" x2="173" y2="240" stroke="#6682f2" stroke-width="0.8"/>
<path d="M163.3 238.56 L164.74 240 L163.3 241.44 L161.86 240 Z" fill="#b9c6ff" stroke="#6682f2" stroke-width="0.7"/>
<text x="175.6" y="242.77" font-size="8.4" text-anchor="start" fill="#222">WALE</text>
<line x1="153.6" y1="250.5" x2="173" y2="250.5" stroke="#777" stroke-width="0.48"/>
<circle cx="163.3" cy="250.5" r="1.26" fill="#000"/>
<text x="175.6" y="253.27" font-size="8.4" text-anchor="start" fill="#222">Experimental</text>
<path d="M29.01 507.31 L48.92 483.06 L71.04 458.81 L93.16 439.01 L115.28 422.18 L137.4 409.51 L159.52 401.03 L181.64 394.97 L203.76 397.53 L225.88 404.93" fill="none" stroke="#9a9a9a" stroke-width="0.6"/>
<path d="M29.01 507.31 L48.92 483.06 L71.04 458.41 L93.16 437.26 L115.28 417.19 L137.4 401.84 L159.52 394.16 L181.64 389.58 L203.76 392.95 L225.88 402.64" fill="none" stroke="#ff45a2" stroke-width="0.85"/>
<circle cx="29.01" cy="507.31" r="1.1" fill="#ff45a2" stroke="#ff45a2" stroke-width="0.6"/>
<circle cx="48.92" cy="483.06" r="1.1" fill="#ff45a2" stroke="#ff45a2" stroke-width="0.6"/>
<circle cx="71.04" cy="458.41" r="1.1" fill="#ff45a2" stroke="#ff45a2" stroke-width="0.6"/>
<circle cx="93.16" cy="437.26" r="1.1" fill="#ff45a2" stroke="#ff45a2" stroke-width="0.6"/>
<circle cx="115.28" cy="417.19" r="1.1" fill="#ff45a2" stroke="#ff45a2" stroke-width="0.6"/>
<circle cx="137.4" cy="401.84" r="1.1" fill="#ff45a2" stroke="#ff45a2" stroke-width="0.6"/>
<circle cx="159.52" cy="394.16" r="1.1" fill="#ff45a2" stroke="#ff45a2" stroke-width="0.6"/>
<circle cx="181.64" cy="389.58" r="1.1" fill="#ff45a2" stroke="#ff45a2" stroke-width="0.6"/>
<circle cx="203.76" cy="392.95" r="1.1" fill="#ff45a2" stroke="#ff45a2" stroke-width="0.6"/>
<circle cx="225.88" cy="402.64" r="1.1" fill="#ff45a2" stroke="#ff45a2" stroke-width="0.6"/>
<path d="M29.01 507.31 L48.92 483.06 L71.04 458.41 L93.16 437.26 L115.28 417.6 L137.4 402.78 L159.52 395.1 L181.64 390.52 L203.76 394.02 L225.88 403.05" fill="none" stroke="#ffa766" stroke-width="0.85"/>
<path d="M27.69 507.31 L30 506.1 L30 508.52 Z" fill="#ffa766" stroke="#ffa766" stroke-width="0.36"/>
<path d="M47.6 483.06 L49.91 481.85 L49.91 484.27 Z" fill="#ffa766" stroke="#ffa766" stroke-width="0.36"/>
<path d="M69.72 458.41 L72.03 457.2 L72.03 459.62 Z" fill="#ffa766" stroke="#ffa766" stroke-width="0.36"/>
<path d="M91.84 437.26 L94.15 436.05 L94.15 438.47 Z" fill="#ffa766" stroke="#ffa766" stroke-width="0.36"/>
<path d="M113.96 417.6 L116.27 416.39 L116.27 418.81 Z" fill="#ffa766" stroke="#ffa766" stroke-width="0.36"/>
<path d="M136.08 402.78 L138.39 401.57 L138.39 403.99 Z" fill="#ffa766" stroke="#ffa766" stroke-width="0.36"/>
<path d="M158.2 395.1 L160.51 393.89 L160.51 396.31 Z" fill="#ffa766" stroke="#ffa766" stroke-width="0.36"/>
<path d="M180.32 390.52 L182.63 389.31 L182.63 391.73 Z" fill="#ffa766" stroke="#ffa766" stroke-width="0.36"/>
<path d="M202.44 394.02 L204.75 392.81 L204.75 395.23 Z" fill="#ffa766" stroke="#ffa766" stroke-width="0.36"/>
<path d="M224.56 403.05 L226.87 401.84 L226.87 404.26 Z" fill="#ffa766" stroke="#ffa766" stroke-width="0.36"/>
<path d="M29.01 507.31 L48.92 483.06 L71.04 458.28 L93.16 437.26 L115.28 417.33 L137.4 402.24 L159.52 394.83 L181.64 391.06 L203.76 394.7 L225.88 403.59" fill="none" stroke="#a2e64e" stroke-width="0.85"/>
<path d="M29.01 505.99 L30.22 508.3 L27.8 508.3 Z" fill="#a2e64e" stroke="#a2e64e" stroke-width="0.6"/>
<path d="M48.92 481.74 L50.13 484.05 L47.71 484.05 Z" fill="#a2e64e" stroke="#a2e64e" stroke-width="0.6"/>
<path d="M71.04 456.96 L72.25 459.27 L69.83 459.27 Z" fill="#a2e64e" stroke="#a2e64e" stroke-width="0.6"/>
<path d="M93.16 435.94 L94.37 438.25 L91.95 438.25 Z" fill="#a2e64e" stroke="#a2e64e" stroke-width="0.6"/>
<path d="M115.28 416.01 L116.49 418.32 L114.07 418.32 Z" fill="#a2e64e" stroke="#a2e64e" stroke-width="0.6"/>
<path d="M137.4 400.92 L138.61 403.23 L136.19 403.23 Z" fill="#a2e64e" stroke="#a2e64e" stroke-width="0.6"/>
<path d="M159.52 393.51 L160.73 395.82 L158.31 395.82 Z" fill="#a2e64e" stroke="#a2e64e" stroke-width="0.6"/>
<path d="M181.64 389.74 L182.85 392.05 L180.43 392.05 Z" fill="#a2e64e" stroke="#a2e64e" stroke-width="0.6"/>
<path d="M203.76 393.38 L204.97 395.69 L202.55 395.69 Z" fill="#a2e64e" stroke="#a2e64e" stroke-width="0.6"/>
<path d="M225.88 402.27 L227.09 404.58 L224.67 404.58 Z" fill="#a2e64e" stroke="#a2e64e" stroke-width="0.6"/>
<path d="M29.01 507.31 L48.92 483.06 L71.04 458.41 L93.16 437.26 L115.28 417.06 L137.4 401.97 L159.52 394.7 L181.64 390.66 L203.76 393.89 L225.88 402.78" fill="none" stroke="#1fd7a2" stroke-width="0.85"/>
<path d="M29.01 508.63 L30.22 506.32 L27.8 506.32 Z" fill="#1fd7a2" stroke="#1fd7a2" stroke-width="0.6"/>
<path d="M48.92 484.38 L50.13 482.07 L47.71 482.07 Z" fill="#1fd7a2" stroke="#1fd7a2" stroke-width="0.6"/>
<path d="M71.04 459.73 L72.25 457.42 L69.83 457.42 Z" fill="#1fd7a2" stroke="#1fd7a2" stroke-width="0.6"/>
<path d="M93.16 438.58 L94.37 436.27 L91.95 436.27 Z" fill="#1fd7a2" stroke="#1fd7a2" stroke-width="0.6"/>
<path d="M115.28 418.38 L116.49 416.07 L114.07 416.07 Z" fill="#1fd7a2" stroke="#1fd7a2" stroke-width="0.6"/>
<path d="M137.4 403.29 L138.61 400.98 L136.19 400.98 Z" fill="#1fd7a2" stroke="#1fd7a2" stroke-width="0.6"/>
<path d="M159.52 396.02 L160.73 393.71 L158.31 393.71 Z" fill="#1fd7a2" stroke="#1fd7a2" stroke-width="0.6"/>
<path d="M181.64 391.98 L182.85 389.67 L180.43 389.67 Z" fill="#1fd7a2" stroke="#1fd7a2" stroke-width="0.6"/>
<path d="M203.76 395.21 L204.97 392.9 L202.55 392.9 Z" fill="#1fd7a2" stroke="#1fd7a2" stroke-width="0.6"/>
<path d="M225.88 404.1 L227.09 401.79 L224.67 401.79 Z" fill="#1fd7a2" stroke="#1fd7a2" stroke-width="0.6"/>
<path d="M29.01 507.31 L48.92 483.06 L71.04 458.54 L93.16 437.53 L115.28 418.4 L137.4 404.4 L159.52 396.72 L181.64 391.6 L203.76 394.7 L225.88 403.05" fill="none" stroke="#6682f2" stroke-width="0.85"/>
<path d="M29.01 505.93 L30.39 507.31 L29.01 508.68 L27.64 507.31 Z" fill="#b9c6ff" stroke="#6682f2" stroke-width="0.6"/>
<path d="M48.92 481.69 L50.3 483.06 L48.92 484.44 L47.55 483.06 Z" fill="#b9c6ff" stroke="#6682f2" stroke-width="0.6"/>
<path d="M71.04 457.17 L72.42 458.54 L71.04 459.92 L69.67 458.54 Z" fill="#b9c6ff" stroke="#6682f2" stroke-width="0.6"/>
<path d="M93.16 436.16 L94.53 437.53 L93.16 438.91 L91.78 437.53 Z" fill="#b9c6ff" stroke="#6682f2" stroke-width="0.6"/>
<path d="M115.28 417.03 L116.66 418.4 L115.28 419.78 L113.91 418.4 Z" fill="#b9c6ff" stroke="#6682f2" stroke-width="0.6"/>
<path d="M137.4 403.02 L138.78 404.4 L137.4 405.77 L136.03 404.4 Z" fill="#b9c6ff" stroke="#6682f2" stroke-width="0.6"/>
<path d="M159.52 395.34 L160.9 396.72 L159.52 398.09 L158.15 396.72 Z" fill="#b9c6ff" stroke="#6682f2" stroke-width="0.6"/>
<path d="M181.64 390.22 L183.01 391.6 L181.64 392.97 L180.26 391.6 Z" fill="#b9c6ff" stroke="#6682f2" stroke-width="0.6"/>
<path d="M203.76 393.32 L205.14 394.7 L203.76 396.07 L202.39 394.7 Z" fill="#b9c6ff" stroke="#6682f2" stroke-width="0.6"/>
<path d="M225.88 401.67 L227.25 403.05 L225.88 404.42 L224.5 403.05 Z" fill="#b9c6ff" stroke="#6682f2" stroke-width="0.6"/>
<circle cx="29.01" cy="507.31" r="1.21" fill="#000"/>
<circle cx="48.92" cy="483.06" r="1.21" fill="#000"/>
<circle cx="71.04" cy="458.81" r="1.21" fill="#000"/>
<circle cx="93.16" cy="439.01" r="1.21" fill="#000"/>
<circle cx="115.28" cy="422.18" r="1.21" fill="#000"/>
<circle cx="137.4" cy="409.51" r="1.21" fill="#000"/>
<circle cx="159.52" cy="401.03" r="1.21" fill="#000"/>
<circle cx="181.64" cy="394.97" r="1.21" fill="#000"/>
<circle cx="203.76" cy="397.53" r="1.21" fill="#000"/>
<circle cx="225.88" cy="404.93" r="1.21" fill="#000"/>
<rect x="26.8" y="375.2" width="201.1" height="148.1" fill="none" stroke="#3c3c3c" stroke-width="0.9"/>
<line x1="26.8" y1="523.3" x2="26.8" y2="520.9" stroke="#3c3c3c" stroke-width="0.81"/>
<line x1="48.92" y1="523.3" x2="48.92" y2="520.9" stroke="#3c3c3c" stroke-width="0.81"/>
<line x1="71.04" y1="523.3" x2="71.04" y2="520.9" stroke="#3c3c3c" stroke-width="0.81"/>
<line x1="93.16" y1="523.3" x2="93.16" y2="520.9" stroke="#3c3c3c" stroke-width="0.81"/>
<line x1="115.28" y1="523.3" x2="115.28" y2="520.9" stroke="#3c3c3c" stroke-width="0.81"/>
<line x1="137.4" y1="523.3" x2="137.4" y2="520.9" stroke="#3c3c3c" stroke-width="0.81"/>
<line x1="159.52" y1="523.3" x2="159.52" y2="520.9" stroke="#3c3c3c" stroke-width="0.81"/>
<line x1="181.64" y1="523.3" x2="181.64" y2="520.9" stroke="#3c3c3c" stroke-width="0.81"/>
<line x1="203.76" y1="523.3" x2="203.76" y2="520.9" stroke="#3c3c3c" stroke-width="0.81"/>
<line x1="225.88" y1="523.3" x2="225.88" y2="520.9" stroke="#3c3c3c" stroke-width="0.81"/>
<line x1="26.8" y1="510" x2="29.2" y2="510" stroke="#3c3c3c" stroke-width="0.81"/>
<line x1="26.8" y1="483.06" x2="29.2" y2="483.06" stroke="#3c3c3c" stroke-width="0.81"/>
<line x1="26.8" y1="456.12" x2="29.2" y2="456.12" stroke="#3c3c3c" stroke-width="0.81"/>
<line x1="26.8" y1="429.18" x2="29.2" y2="429.18" stroke="#3c3c3c" stroke-width="0.81"/>
<line x1="26.8" y1="402.24" x2="29.2" y2="402.24" stroke="#3c3c3c" stroke-width="0.81"/>
<line x1="26.8" y1="375.3" x2="29.2" y2="375.3" stroke="#3c3c3c" stroke-width="0.81"/>
<line x1="26.8" y1="523.47" x2="28.1" y2="523.47" stroke="#3c3c3c" stroke-width="0.7200000000000001"/>
<line x1="26.8" y1="496.53" x2="28.1" y2="496.53" stroke="#3c3c3c" stroke-width="0.7200000000000001"/>
<line x1="26.8" y1="469.59" x2="28.1" y2="469.59" stroke="#3c3c3c" stroke-width="0.7200000000000001"/>
<line x1="26.8" y1="442.65" x2="28.1" y2="442.65" stroke="#3c3c3c" stroke-width="0.7200000000000001"/>
<line x1="26.8" y1="415.71" x2="28.1" y2="415.71" stroke="#3c3c3c" stroke-width="0.7200000000000001"/>
<line x1="26.8" y1="388.77" x2="28.1" y2="388.77" stroke="#3c3c3c" stroke-width="0.7200000000000001"/>
<text x="26.8" y="533.7" font-size="8.6" text-anchor="middle" fill="#222">0.0</text>
<text x="48.92" y="533.7" font-size="8.6" text-anchor="middle" fill="#222">0.1</text>
<text x="71.04" y="533.7" font-size="8.6" text-anchor="middle" fill="#222">0.2</text>
<text x="93.16" y="533.7" font-size="8.6" text-anchor="middle" fill="#222">0.3</text>
<text x="115.28" y="533.7" font-size="8.6" text-anchor="middle" fill="#222">0.4</text>
<text x="137.4" y="533.7" font-size="8.6" text-anchor="middle" fill="#222">0.5</text>
<text x="159.52" y="533.7" font-size="8.6" text-anchor="middle" fill="#222">0.6</text>
<text x="181.64" y="533.7" font-size="8.6" text-anchor="middle" fill="#222">0.7</text>
<text x="203.76" y="533.7" font-size="8.6" text-anchor="middle" fill="#222">0.8</text>
<text x="225.88" y="533.7" font-size="8.6" text-anchor="middle" fill="#222">0.9</text>
<text x="23.6" y="512.84" font-size="8.6" text-anchor="end" fill="#222">0</text>
<text x="23.6" y="485.9" font-size="8.6" text-anchor="end" fill="#222">20</text>
<text x="23.6" y="458.96" font-size="8.6" text-anchor="end" fill="#222">40</text>
<text x="23.6" y="432.02" font-size="8.6" text-anchor="end" fill="#222">60</text>
<text x="23.6" y="405.08" font-size="8.6" text-anchor="end" fill="#222">80</text>
<text x="23.6" y="378.14" font-size="8.6" text-anchor="end" fill="#222">100</text>
<text x="123.6" y="544.6" font-size="8.6" text-anchor="middle" font-style="italic" fill="#222">SR</text>
<text x="12.4" y="449.7" font-size="8.6" text-anchor="middle" fill="#222" transform="rotate(-90 12.4 449.7)"><tspan font-style="italic">η</tspan> (%)</text>
<line x1="149.8" y1="454.8" x2="169" y2="454.8" stroke="#ff45a2" stroke-width="0.8"/>
<circle cx="159.4" cy="454.8" r="1.15" fill="#ff45a2" stroke="#ff45a2" stroke-width="0.7"/>
<text x="171.6" y="457.57" font-size="8.4" text-anchor="start" fill="#222">SST</text>
<line x1="149.8" y1="465.1" x2="169" y2="465.1" stroke="#ffa766" stroke-width="0.8"/>
<path d="M158.02 465.1 L160.44 463.84 L160.44 466.37 Z" fill="#ffa766" stroke="#ffa766" stroke-width="0.42"/>
<text x="171.6" y="467.87" font-size="8.4" text-anchor="start" fill="#222">DDES</text>
<line x1="149.8" y1="475.2" x2="169" y2="475.2" stroke="#a2e64e" stroke-width="0.8"/>
<path d="M159.4 473.82 L160.66 476.24 L158.14 476.24 Z" fill="#a2e64e" stroke="#a2e64e" stroke-width="0.7"/>
<text x="171.6" y="477.97" font-size="8.4" text-anchor="start" fill="#222">SBES</text>
<line x1="149.8" y1="485.4" x2="169" y2="485.4" stroke="#1fd7a2" stroke-width="0.8"/>
<path d="M159.4 486.78 L160.66 484.36 L158.14 484.36 Z" fill="#1fd7a2" stroke="#1fd7a2" stroke-width="0.7"/>
<text x="171.6" y="488.17" font-size="8.4" text-anchor="start" fill="#222">SAS-SST</text>
<line x1="149.8" y1="495.6" x2="169" y2="495.6" stroke="#6682f2" stroke-width="0.8"/>
<path d="M159.4 494.16 L160.84 495.6 L159.4 497.04 L157.96 495.6 Z" fill="#b9c6ff" stroke="#6682f2" stroke-width="0.7"/>
<text x="171.6" y="498.37" font-size="8.4" text-anchor="start" fill="#222">WALE</text>
<line x1="149.8" y1="506.2" x2="169" y2="506.2" stroke="#777" stroke-width="0.48"/>
<circle cx="159.4" cy="506.2" r="1.26" fill="#000"/>
<text x="171.6" y="508.97" font-size="8.4" text-anchor="start" fill="#222">Experimental</text>
<rect x="340.4" y="26.08" width="8.25" height="129.22" fill="#dcdcdc" stroke="#222" stroke-width="0.9"/>
<rect x="348.65" y="31.54" width="8.25" height="123.76" fill="url(#h1)" stroke="#222" stroke-width="0.9"/>
<rect x="356.9" y="95.24" width="8.25" height="60.06" fill="#000" stroke="#222" stroke-width="0.9"/>
<rect x="365.15" y="93.42" width="8.25" height="61.88" fill="url(#h2)" stroke="#222" stroke-width="0.9"/>
<rect x="373.4" y="49.74" width="8.25" height="105.56" fill="#f3f3f3" stroke="#222" stroke-width="0.9"/>
<rect x="391.93" y="77.04" width="8.25" height="78.26" fill="#dcdcdc" stroke="#222" stroke-width="0.9"/>
<rect x="400.18" y="93.42" width="8.25" height="61.88" fill="url(#h1)" stroke="#222" stroke-width="0.9"/>
<rect x="408.43" y="109.8" width="8.25" height="45.5" fill="#000" stroke="#222" stroke-width="0.9"/>
<rect x="416.68" y="97.06" width="8.25" height="58.24" fill="url(#h2)" stroke="#222" stroke-width="0.9"/>
<rect x="424.93" y="97.06" width="8.25" height="58.24" fill="#f3f3f3" stroke="#222" stroke-width="0.9"/>
<rect x="443.46" y="106.16" width="8.25" height="49.14" fill="#dcdcdc" stroke="#222" stroke-width="0.9"/>
<rect x="451.71" y="111.62" width="8.25" height="43.68" fill="url(#h1)" stroke="#222" stroke-width="0.9"/>
<rect x="459.96" y="142.56" width="8.25" height="12.74" fill="#000" stroke="#222" stroke-width="0.9"/>
<rect x="468.21" y="133.46" width="8.25" height="21.84" fill="url(#h2)" stroke="#222" stroke-width="0.9"/>
<rect x="476.46" y="118.9" width="8.25" height="36.4" fill="#f3f3f3" stroke="#222" stroke-width="0.9"/>
<rect x="494.99" y="46.1" width="8.25" height="109.2" fill="#dcdcdc" stroke="#222" stroke-width="0.9"/>
<rect x="503.24" y="113.44" width="8.25" height="41.86" fill="url(#h1)" stroke="#222" stroke-width="0.9"/>
<rect x="511.49" y="142.56" width="8.25" height="12.74" fill="#000" stroke="#222" stroke-width="0.9"/>
<rect x="519.74" y="138.92" width="8.25" height="16.38" fill="url(#h2)" stroke="#222" stroke-width="0.9"/>
<rect x="527.99" y="115.26" width="8.25" height="40.04" fill="#f3f3f3" stroke="#222" stroke-width="0.9"/>
<rect x="335.2" y="9.4" width="206.4" height="145.9" fill="none" stroke="#3c3c3c" stroke-width="0.95"/>
<line x1="335.2" y1="155.3" x2="332.3" y2="155.3" stroke="#3c3c3c" stroke-width="0.85"/>
<text x="331" y="158.2" font-size="8.5" text-anchor="end" fill="#222">0</text>
<line x1="335.2" y1="146.2" x2="333.6" y2="146.2" stroke="#3c3c3c" stroke-width="0.75"/>
<line x1="335.2" y1="137.1" x2="332.3" y2="137.1" stroke="#3c3c3c" stroke-width="0.85"/>
<text x="331" y="140" font-size="8.5" text-anchor="end" fill="#222">1</text>
<line x1="335.2" y1="128" x2="333.6" y2="128" stroke="#3c3c3c" stroke-width="0.75"/>
<line x1="335.2" y1="118.9" x2="332.3" y2="118.9" stroke="#3c3c3c" stroke-width="0.85"/>
<text x="331" y="121.8" font-size="8.5" text-anchor="end" fill="#222">2</text>
<line x1="335.2" y1="109.8" x2="333.6" y2="109.8" stroke="#3c3c3c" stroke-width="0.75"/>
<line x1="335.2" y1="100.7" x2="332.3" y2="100.7" stroke="#3c3c3c" stroke-width="0.85"/>
<text x="331" y="103.6" font-size="8.5" text-anchor="end" fill="#222">3</text>
<line x1="335.2" y1="91.6" x2="333.6" y2="91.6" stroke="#3c3c3c" stroke-width="0.75"/>
<line x1="335.2" y1="82.5" x2="332.3" y2="82.5" stroke="#3c3c3c" stroke-width="0.85"/>
<text x="331" y="85.4" font-size="8.5" text-anchor="end" fill="#222">4</text>
<line x1="335.2" y1="73.4" x2="333.6" y2="73.4" stroke="#3c3c3c" stroke-width="0.75"/>
<line x1="335.2" y1="64.3" x2="332.3" y2="64.3" stroke="#3c3c3c" stroke-width="0.85"/>
<text x="331" y="67.2" font-size="8.5" text-anchor="end" fill="#222">5</text>
<line x1="335.2" y1="55.2" x2="333.6" y2="55.2" stroke="#3c3c3c" stroke-width="0.75"/>
<line x1="335.2" y1="46.1" x2="332.3" y2="46.1" stroke="#3c3c3c" stroke-width="0.85"/>
<text x="331" y="49" font-size="8.5" text-anchor="end" fill="#222">6</text>
<line x1="335.2" y1="37" x2="333.6" y2="37" stroke="#3c3c3c" stroke-width="0.75"/>
<line x1="335.2" y1="27.9" x2="332.3" y2="27.9" stroke="#3c3c3c" stroke-width="0.85"/>
<text x="331" y="30.8" font-size="8.5" text-anchor="end" fill="#222">7</text>
<line x1="335.2" y1="18.8" x2="333.6" y2="18.8" stroke="#3c3c3c" stroke-width="0.75"/>
<line x1="335.2" y1="9.7" x2="332.3" y2="9.7" stroke="#3c3c3c" stroke-width="0.85"/>
<text x="331" y="12.6" font-size="8.5" text-anchor="end" fill="#222">8</text>
<line x1="361" y1="155.3" x2="361" y2="157.9" stroke="#3c3c3c" stroke-width="0.85"/>
<text x="361" y="166.9" font-size="8.5" text-anchor="middle" fill="#222">0.01</text>
<line x1="412.5" y1="155.3" x2="412.5" y2="157.9" stroke="#3c3c3c" stroke-width="0.85"/>
<text x="412.5" y="166.9" font-size="8.5" text-anchor="middle" fill="#222">0.3</text>
<line x1="464.2" y1="155.3" x2="464.2" y2="157.9" stroke="#3c3c3c" stroke-width="0.85"/>
<text x="464.2" y="166.9" font-size="8.5" text-anchor="middle" fill="#222">0.6</text>
<line x1="515.6" y1="155.3" x2="515.6" y2="157.9" stroke="#3c3c3c" stroke-width="0.85"/>
<text x="515.6" y="166.9" font-size="8.5" text-anchor="middle" fill="#222">0.9</text>
<text x="436.3" y="177.4" font-size="8.5" text-anchor="middle" font-style="italic" fill="#222">SR</text>
<text x="323.6" y="82.35" font-size="8.5" text-anchor="middle" transform="rotate(-90 323.6 82.35)" fill="#222">Absolute error (%)</text>
<rect x="414.4" y="13.95" width="19" height="8.35" fill="#dcdcdc" stroke="#333" stroke-width="1"/>
<text x="435.6" y="21.15" font-size="8.4" text-anchor="start" fill="#222">SST</text>
<rect x="414.4" y="24.37" width="19" height="8.35" fill="url(#h1)" stroke="#333" stroke-width="1"/>
<text x="435.6" y="31.57" font-size="8.4" text-anchor="start" fill="#222">DDES</text>
<rect x="414.4" y="34.79" width="19" height="8.35" fill="#000" stroke="#333" stroke-width="1"/>
<text x="435.6" y="41.99" font-size="8.4" text-anchor="start" fill="#222">SBES</text>
<rect x="414.4" y="45.21" width="19" height="8.35" fill="url(#h2)" stroke="#333" stroke-width="1"/>
<text x="435.6" y="52.41" font-size="8.4" text-anchor="start" fill="#222">SAS-SST</text>
<rect x="414.4" y="55.63" width="19" height="8.35" fill="#f3f3f3" stroke="#333" stroke-width="1"/>
<text x="435.6" y="62.83" font-size="8.4" text-anchor="start" fill="#222">WALE</text>
<rect x="340.4" y="234.17" width="8.25" height="104.13" fill="#dcdcdc" stroke="#222" stroke-width="0.9"/>
<rect x="348.65" y="277.76" width="8.25" height="60.54" fill="url(#h1)" stroke="#222" stroke-width="0.9"/>
<rect x="356.9" y="282.6" width="8.25" height="55.7" fill="#000" stroke="#222" stroke-width="0.9"/>
<rect x="365.15" y="280.18" width="8.25" height="58.12" fill="url(#h2)" stroke="#222" stroke-width="0.9"/>
<rect x="373.4" y="263.23" width="8.25" height="75.07" fill="#f3f3f3" stroke="#222" stroke-width="0.9"/>
<rect x="391.93" y="209.95" width="8.25" height="128.35" fill="#dcdcdc" stroke="#222" stroke-width="0.9"/>
<rect x="400.18" y="255.96" width="8.25" height="82.34" fill="url(#h1)" stroke="#222" stroke-width="0.9"/>
<rect x="408.43" y="309.24" width="8.25" height="29.06" fill="#000" stroke="#222" stroke-width="0.9"/>
<rect x="416.68" y="280.18" width="8.25" height="58.12" fill="url(#h2)" stroke="#222" stroke-width="0.9"/>
<rect x="424.93" y="253.54" width="8.25" height="84.76" fill="#f3f3f3" stroke="#222" stroke-width="0.9"/>
<rect x="443.46" y="285.02" width="8.25" height="53.28" fill="#dcdcdc" stroke="#222" stroke-width="0.9"/>
<rect x="451.71" y="236.59" width="8.25" height="101.71" fill="url(#h1)" stroke="#222" stroke-width="0.9"/>
<rect x="459.96" y="328.61" width="8.25" height="9.69" fill="#000" stroke="#222" stroke-width="0.9"/>
<rect x="468.21" y="263.23" width="8.25" height="75.07" fill="url(#h2)" stroke="#222" stroke-width="0.9"/>
<rect x="476.46" y="309.24" width="8.25" height="29.06" fill="#f3f3f3" stroke="#222" stroke-width="0.9"/>
<rect x="494.99" y="309.24" width="8.25" height="29.06" fill="#dcdcdc" stroke="#222" stroke-width="0.9"/>
<rect x="503.24" y="314.08" width="8.25" height="24.22" fill="url(#h1)" stroke="#222" stroke-width="0.9"/>
<rect x="511.49" y="333.46" width="8.25" height="4.84" fill="#000" stroke="#222" stroke-width="0.9"/>
<rect x="519.74" y="301.98" width="8.25" height="36.32" fill="url(#h2)" stroke="#222" stroke-width="0.9"/>
<rect x="527.99" y="321.35" width="8.25" height="16.95" fill="#f3f3f3" stroke="#222" stroke-width="0.9"/>
<rect x="335.2" y="192.7" width="206.4" height="145.6" fill="none" stroke="#3c3c3c" stroke-width="0.95"/>
<line x1="335.2" y1="338.3" x2="332.3" y2="338.3" stroke="#3c3c3c" stroke-width="0.85"/>
<text x="331" y="341.2" font-size="8.5" text-anchor="end" fill="#222">0</text>
<line x1="335.2" y1="326.19" x2="333.6" y2="326.19" stroke="#3c3c3c" stroke-width="0.75"/>
<line x1="335.2" y1="314.08" x2="332.3" y2="314.08" stroke="#3c3c3c" stroke-width="0.85"/>
<text x="331" y="316.98" font-size="8.5" text-anchor="end" fill="#222">1</text>
<line x1="335.2" y1="301.98" x2="333.6" y2="301.98" stroke="#3c3c3c" stroke-width="0.75"/>
<line x1="335.2" y1="289.87" x2="332.3" y2="289.87" stroke="#3c3c3c" stroke-width="0.85"/>
<text x="331" y="292.77" font-size="8.5" text-anchor="end" fill="#222">2</text>
<line x1="335.2" y1="277.76" x2="333.6" y2="277.76" stroke="#3c3c3c" stroke-width="0.75"/>
<line x1="335.2" y1="265.65" x2="332.3" y2="265.65" stroke="#3c3c3c" stroke-width="0.85"/>
<text x="331" y="268.55" font-size="8.5" text-anchor="end" fill="#222">3</text>
<line x1="335.2" y1="253.54" x2="333.6" y2="253.54" stroke="#3c3c3c" stroke-width="0.75"/>
<line x1="335.2" y1="241.43" x2="332.3" y2="241.43" stroke="#3c3c3c" stroke-width="0.85"/>
<text x="331" y="244.33" font-size="8.5" text-anchor="end" fill="#222">4</text>
<line x1="335.2" y1="229.32" x2="333.6" y2="229.32" stroke="#3c3c3c" stroke-width="0.75"/>
<line x1="335.2" y1="217.22" x2="332.3" y2="217.22" stroke="#3c3c3c" stroke-width="0.85"/>
<text x="331" y="220.12" font-size="8.5" text-anchor="end" fill="#222">5</text>
<line x1="335.2" y1="205.11" x2="333.6" y2="205.11" stroke="#3c3c3c" stroke-width="0.75"/>
<line x1="335.2" y1="193" x2="332.3" y2="193" stroke="#3c3c3c" stroke-width="0.85"/>
<text x="331" y="195.9" font-size="8.5" text-anchor="end" fill="#222">6</text>
<line x1="361" y1="338.3" x2="361" y2="340.9" stroke="#3c3c3c" stroke-width="0.85"/>
<text x="361" y="349.9" font-size="8.5" text-anchor="middle" fill="#222">0.01</text>
<line x1="412.5" y1="338.3" x2="412.5" y2="340.9" stroke="#3c3c3c" stroke-width="0.85"/>
<text x="412.5" y="349.9" font-size="8.5" text-anchor="middle" fill="#222">0.3</text>
<line x1="464.2" y1="338.3" x2="464.2" y2="340.9" stroke="#3c3c3c" stroke-width="0.85"/>
<text x="464.2" y="349.9" font-size="8.5" text-anchor="middle" fill="#222">0.6</text>
<line x1="515.6" y1="338.3" x2="515.6" y2="340.9" stroke="#3c3c3c" stroke-width="0.85"/>
<text x="515.6" y="349.9" font-size="8.5" text-anchor="middle" fill="#222">0.9</text>
<text x="436.3" y="360.4" font-size="8.5" text-anchor="middle" font-style="italic" fill="#222">SR</text>
<text x="323.6" y="265.5" font-size="8.5" text-anchor="middle" transform="rotate(-90 323.6 265.5)" fill="#222">Absolute error (%)</text>
<rect x="479.2" y="197.1" width="19" height="8.35" fill="#dcdcdc" stroke="#333" stroke-width="1"/>
<text x="500.4" y="204.3" font-size="8.4" text-anchor="start" fill="#222">SST</text>
<rect x="479.2" y="207.65" width="19" height="8.35" fill="url(#h1)" stroke="#333" stroke-width="1"/>
<text x="500.4" y="214.85" font-size="8.4" text-anchor="start" fill="#222">DDES</text>
<rect x="479.2" y="218.2" width="19" height="8.35" fill="#000" stroke="#333" stroke-width="1"/>
<text x="500.4" y="225.4" font-size="8.4" text-anchor="start" fill="#222">SBES</text>
<rect x="479.2" y="228.75" width="19" height="8.35" fill="url(#h2)" stroke="#333" stroke-width="1"/>
<text x="500.4" y="235.95" font-size="8.4" text-anchor="start" fill="#222">SAS-SST</text>
<rect x="479.2" y="239.3" width="19" height="8.35" fill="#f3f3f3" stroke="#333" stroke-width="1"/>
<text x="500.4" y="246.5" font-size="8.4" text-anchor="start" fill="#222">WALE</text>
<rect x="340.4" y="444.33" width="8.25" height="75.97" fill="#dcdcdc" stroke="#222" stroke-width="0.9"/>
<rect x="348.65" y="478.7" width="8.25" height="41.6" fill="url(#h1)" stroke="#222" stroke-width="0.9"/>
<rect x="356.9" y="496.79" width="8.25" height="23.51" fill="#000" stroke="#222" stroke-width="0.9"/>
<rect x="365.15" y="476.89" width="8.25" height="43.41" fill="url(#h2)" stroke="#222" stroke-width="0.9"/>
<rect x="373.4" y="453.38" width="8.25" height="66.92" fill="#f3f3f3" stroke="#222" stroke-width="0.9"/>
<rect x="391.93" y="476.89" width="8.25" height="43.41" fill="#dcdcdc" stroke="#222" stroke-width="0.9"/>
<rect x="400.18" y="469.65" width="8.25" height="50.64" fill="url(#h1)" stroke="#222" stroke-width="0.9"/>
<rect x="408.43" y="473.27" width="8.25" height="47.03" fill="#000" stroke="#222" stroke-width="0.9"/>
<rect x="416.68" y="473.27" width="8.25" height="47.03" fill="url(#h2)" stroke="#222" stroke-width="0.9"/>
<rect x="424.93" y="482.32" width="8.25" height="37.98" fill="#f3f3f3" stroke="#222" stroke-width="0.9"/>
<rect x="443.46" y="411.77" width="8.25" height="108.52" fill="#dcdcdc" stroke="#222" stroke-width="0.9"/>
<rect x="451.71" y="435.29" width="8.25" height="85.01" fill="url(#h1)" stroke="#222" stroke-width="0.9"/>
<rect x="459.96" y="462.42" width="8.25" height="57.88" fill="#000" stroke="#222" stroke-width="0.9"/>
<rect x="468.21" y="417.2" width="8.25" height="103.1" fill="url(#h2)" stroke="#222" stroke-width="0.9"/>
<rect x="476.46" y="453.38" width="8.25" height="66.92" fill="#f3f3f3" stroke="#222" stroke-width="0.9"/>
<rect x="494.99" y="493.17" width="8.25" height="27.13" fill="#dcdcdc" stroke="#222" stroke-width="0.9"/>
<rect x="503.24" y="498.59" width="8.25" height="21.7" fill="url(#h1)" stroke="#222" stroke-width="0.9"/>
<rect x="511.49" y="502.21" width="8.25" height="18.09" fill="#000" stroke="#222" stroke-width="0.9"/>
<rect x="519.74" y="482.32" width="8.25" height="37.98" fill="url(#h2)" stroke="#222" stroke-width="0.9"/>
<rect x="527.99" y="494.98" width="8.25" height="25.32" fill="#f3f3f3" stroke="#222" stroke-width="0.9"/>
<rect x="335.2" y="375.3" width="206.4" height="145" fill="none" stroke="#3c3c3c" stroke-width="0.95"/>
<line x1="335.2" y1="520.3" x2="332.3" y2="520.3" stroke="#3c3c3c" stroke-width="0.85"/>
<text x="331" y="523.2" font-size="8.5" text-anchor="end" fill="#222">0</text>
<line x1="335.2" y1="511.26" x2="333.6" y2="511.26" stroke="#3c3c3c" stroke-width="0.75"/>
<line x1="335.2" y1="502.21" x2="332.3" y2="502.21" stroke="#3c3c3c" stroke-width="0.85"/>
<text x="331" y="505.11" font-size="8.5" text-anchor="end" fill="#222">1</text>
<line x1="335.2" y1="493.17" x2="333.6" y2="493.17" stroke="#3c3c3c" stroke-width="0.75"/>
<line x1="335.2" y1="484.12" x2="332.3" y2="484.12" stroke="#3c3c3c" stroke-width="0.85"/>
<text x="331" y="487.02" font-size="8.5" text-anchor="end" fill="#222">2</text>
<line x1="335.2" y1="475.08" x2="333.6" y2="475.08" stroke="#3c3c3c" stroke-width="0.75"/>
<line x1="335.2" y1="466.04" x2="332.3" y2="466.04" stroke="#3c3c3c" stroke-width="0.85"/>
<text x="331" y="468.94" font-size="8.5" text-anchor="end" fill="#222">3</text>
<line x1="335.2" y1="456.99" x2="333.6" y2="456.99" stroke="#3c3c3c" stroke-width="0.75"/>
<line x1="335.2" y1="447.95" x2="332.3" y2="447.95" stroke="#3c3c3c" stroke-width="0.85"/>
<text x="331" y="450.85" font-size="8.5" text-anchor="end" fill="#222">4</text>
<line x1="335.2" y1="438.91" x2="333.6" y2="438.91" stroke="#3c3c3c" stroke-width="0.75"/>
<line x1="335.2" y1="429.86" x2="332.3" y2="429.86" stroke="#3c3c3c" stroke-width="0.85"/>
<text x="331" y="432.76" font-size="8.5" text-anchor="end" fill="#222">5</text>
<line x1="335.2" y1="420.82" x2="333.6" y2="420.82" stroke="#3c3c3c" stroke-width="0.75"/>
<line x1="335.2" y1="411.77" x2="332.3" y2="411.77" stroke="#3c3c3c" stroke-width="0.85"/>
<text x="331" y="414.67" font-size="8.5" text-anchor="end" fill="#222">6</text>
<line x1="335.2" y1="402.73" x2="333.6" y2="402.73" stroke="#3c3c3c" stroke-width="0.75"/>
<line x1="335.2" y1="393.69" x2="332.3" y2="393.69" stroke="#3c3c3c" stroke-width="0.85"/>
<text x="331" y="396.59" font-size="8.5" text-anchor="end" fill="#222">7</text>
<line x1="335.2" y1="384.64" x2="333.6" y2="384.64" stroke="#3c3c3c" stroke-width="0.75"/>
<line x1="335.2" y1="375.6" x2="332.3" y2="375.6" stroke="#3c3c3c" stroke-width="0.85"/>
<text x="331" y="378.5" font-size="8.5" text-anchor="end" fill="#222">8</text>
<line x1="361" y1="520.3" x2="361" y2="522.9" stroke="#3c3c3c" stroke-width="0.85"/>
<text x="361" y="531.9" font-size="8.5" text-anchor="middle" fill="#222">0.01</text>
<line x1="412.5" y1="520.3" x2="412.5" y2="522.9" stroke="#3c3c3c" stroke-width="0.85"/>
<text x="412.5" y="531.9" font-size="8.5" text-anchor="middle" fill="#222">0.3</text>
<line x1="464.2" y1="520.3" x2="464.2" y2="522.9" stroke="#3c3c3c" stroke-width="0.85"/>
<text x="464.2" y="531.9" font-size="8.5" text-anchor="middle" fill="#222">0.6</text>
<line x1="515.6" y1="520.3" x2="515.6" y2="522.9" stroke="#3c3c3c" stroke-width="0.85"/>
<text x="515.6" y="531.9" font-size="8.5" text-anchor="middle" fill="#222">0.9</text>
<text x="436.3" y="542.4" font-size="8.5" text-anchor="middle" font-style="italic" fill="#222">SR</text>
<text x="323.6" y="447.8" font-size="8.5" text-anchor="middle" transform="rotate(-90 323.6 447.8)" fill="#222">Absolute error (%)</text>
<rect x="357.4" y="379.8" width="19" height="8.35" fill="#dcdcdc" stroke="#333" stroke-width="1"/>
<text x="378.6" y="387" font-size="8.4" text-anchor="start" fill="#222">SST</text>
<rect x="357.4" y="390.3" width="19" height="8.35" fill="url(#h1)" stroke="#333" stroke-width="1"/>
<text x="378.6" y="397.5" font-size="8.4" text-anchor="start" fill="#222">DDES</text>
<rect x="357.4" y="400.8" width="19" height="8.35" fill="#000" stroke="#333" stroke-width="1"/>
<text x="378.6" y="408" font-size="8.4" text-anchor="start" fill="#222">SBES</text>
<rect x="357.4" y="411.3" width="19" height="8.35" fill="url(#h2)" stroke="#333" stroke-width="1"/>
<text x="378.6" y="418.5" font-size="8.4" text-anchor="start" fill="#222">SAS-SST</text>
<rect x="357.4" y="421.8" width="19" height="8.35" fill="#f3f3f3" stroke="#333" stroke-width="1"/>
<text x="378.6" y="429" font-size="8.4" text-anchor="start" fill="#222">WALE</text>
</svg>
</body></html>
